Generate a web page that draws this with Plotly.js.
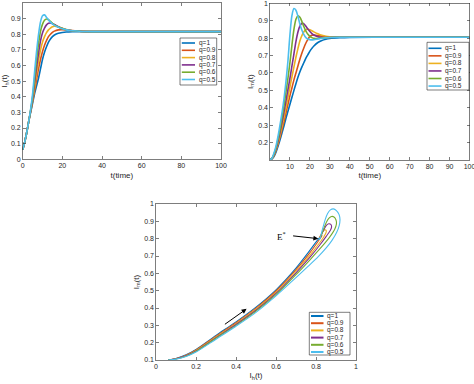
<!DOCTYPE html>
<html><head><meta charset="utf-8">
<script src="https://cdn.plot.ly/plotly-3.0.1.min.js"></script>
<style>html,body{margin:0;padding:0;background:#fff;}#chart{width:474px;height:384px;}</style>
</head><body><div id="chart"></div>
<script>
// ---------- data ----------
const qLabels = ['q=1','q=0.9','q=0.8','q=0.7','q=0.6','q=0.5'];
const colors  = ['#0072BD','#D95319','#EDB120','#7E2F8E','#77AC30','#4DBEEE'];

// Top-left: I_h(t)
const tH = [0,1,2,3,4,5,6,7,8,9,10,11,12,13,14,15,16,18,20,22,25,30,40,60,100];
const Ih_q10 = [0.06,0.11,0.17,0.24,0.30,0.36,0.42,0.47,0.52,0.58,0.64,0.685,0.72,0.75,0.77,0.785,0.795,0.806,0.811,0.814,0.816,0.817,0.817,0.817,0.817];
const Ih_q09 = [0.06,0.11,0.17,0.24,0.305,0.37,0.44,0.51,0.58,0.64,0.69,0.73,0.76,0.785,0.80,0.812,0.82,0.828,0.829,0.827,0.823,0.819,0.817,0.817,0.817];
const Ih_q08 = [0.06,0.11,0.17,0.24,0.31,0.38,0.46,0.55,0.63,0.70,0.75,0.785,0.81,0.828,0.84,0.848,0.851,0.847,0.838,0.83,0.823,0.818,0.817,0.817,0.817];
const Ih_q07 = [0.06,0.11,0.17,0.24,0.31,0.39,0.49,0.59,0.68,0.76,0.81,0.84,0.86,0.87,0.872,0.868,0.862,0.848,0.837,0.829,0.822,0.818,0.817,0.817,0.817];
const Ih_q06 = [0.06,0.11,0.17,0.24,0.315,0.40,0.52,0.64,0.74,0.82,0.865,0.89,0.898,0.893,0.882,0.87,0.86,0.846,0.836,0.829,0.822,0.818,0.817,0.817,0.817];
const Ih_q05 = [0.06,0.11,0.17,0.24,0.32,0.42,0.56,0.69,0.80,0.88,0.918,0.924,0.908,0.892,0.878,0.866,0.857,0.845,0.835,0.828,0.822,0.818,0.817,0.817,0.817];

// Top-right: I_m(t)
const tM = [0,1,2,3,4,5,6,7,8,9,10,11,12,13,14,15,16,17,18,19,20,21,22,24,26,28,30,35,40,60,100];
const Im_q10 = [0.1,0.106,0.12,0.145,0.178,0.215,0.255,0.295,0.34,0.38,0.42,0.46,0.5,0.538,0.575,0.607,0.635,0.66,0.685,0.705,0.725,0.741,0.755,0.775,0.787,0.794,0.798,0.802,0.804,0.805,0.805];
const Im_q09 = [0.1,0.108,0.125,0.155,0.19,0.23,0.275,0.32,0.37,0.42,0.47,0.515,0.56,0.6,0.64,0.68,0.715,0.745,0.772,0.793,0.81,0.817,0.818,0.815,0.811,0.808,0.806,0.805,0.805,0.805,0.805];
const Im_q08 = [0.1,0.109,0.128,0.16,0.198,0.242,0.29,0.345,0.4,0.46,0.52,0.578,0.635,0.69,0.74,0.785,0.815,0.837,0.849,0.851,0.848,0.842,0.836,0.825,0.816,0.81,0.807,0.805,0.805,0.805,0.805];
const Im_q07 = [0.1,0.11,0.13,0.165,0.208,0.258,0.315,0.375,0.44,0.505,0.57,0.64,0.71,0.78,0.835,0.87,0.886,0.882,0.868,0.852,0.838,0.826,0.818,0.808,0.804,0.803,0.804,0.805,0.805,0.805,0.805];
const Im_q06 = [0.1,0.11,0.133,0.17,0.218,0.275,0.34,0.41,0.49,0.57,0.66,0.76,0.85,0.908,0.928,0.92,0.895,0.865,0.84,0.822,0.81,0.803,0.799,0.798,0.801,0.803,0.804,0.805,0.805,0.805,0.805];
const Im_q05 = [0.1,0.11,0.14,0.18,0.235,0.3,0.37,0.45,0.55,0.67,0.82,0.93,0.97,0.96,0.925,0.88,0.845,0.82,0.803,0.795,0.791,0.79,0.791,0.795,0.799,0.802,0.804,0.805,0.805,0.805,0.805];

// Bottom: phase plane I_h vs I_m
const ph_Ih_q10 = [0.06,0.1,0.15,0.2,0.3,0.4,0.5,0.6,0.7,0.76,0.795,0.81,0.817];
const ph_Im_q10 = [0.1,0.109,0.13,0.161,0.242,0.32,0.405,0.505,0.63,0.718,0.773,0.795,0.805];
const ph_Ih_q09 = [0.06,0.1,0.15,0.2,0.3,0.4,0.5,0.6,0.7,0.765,0.805,0.823,0.83,0.827,0.821,0.817];
const ph_Im_q09 = [0.1,0.108,0.128,0.158,0.238,0.315,0.399,0.498,0.621,0.712,0.775,0.805,0.818,0.82,0.812,0.805];
const ph_Ih_q08 = [0.06,0.1,0.15,0.2,0.3,0.4,0.5,0.6,0.7,0.77,0.815,0.84,0.851,0.85,0.842,0.832,0.824,0.819,0.817];
const ph_Im_q08 = [0.1,0.107,0.126,0.155,0.233,0.31,0.393,0.491,0.612,0.705,0.772,0.813,0.838,0.849,0.85,0.838,0.822,0.81,0.805];
const ph_Ih_q07 = [0.06,0.1,0.15,0.2,0.3,0.4,0.5,0.6,0.7,0.77,0.82,0.852,0.872,0.878,0.874,0.864,0.853,0.842,0.832,0.824,0.819,0.817];
const ph_Im_q07 = [0.1,0.107,0.124,0.152,0.229,0.305,0.387,0.484,0.603,0.693,0.765,0.815,0.849,0.868,0.882,0.886,0.878,0.858,0.835,0.816,0.806,0.805];
const ph_Ih_q06 = [0.06,0.1,0.15,0.2,0.3,0.4,0.5,0.6,0.7,0.77,0.83,0.87,0.893,0.902,0.9,0.89,0.878,0.865,0.852,0.84,0.83,0.823,0.819,0.817];
const ph_Im_q06 = [0.1,0.106,0.122,0.149,0.225,0.3,0.382,0.477,0.592,0.678,0.755,0.812,0.853,0.884,0.908,0.925,0.928,0.918,0.895,0.862,0.83,0.81,0.801,0.805];
const ph_Ih_q05 = [0.06,0.1,0.15,0.2,0.3,0.4,0.5,0.6,0.7,0.76,0.81,0.85,0.88,0.903,0.916,0.92,0.915,0.902,0.887,0.872,0.858,0.846,0.836,0.828,0.822,0.819,0.817,0.817];
const ph_Im_q05 = [0.1,0.105,0.12,0.146,0.22,0.295,0.375,0.47,0.575,0.64,0.695,0.745,0.79,0.835,0.875,0.91,0.94,0.962,0.972,0.966,0.945,0.91,0.87,0.835,0.808,0.796,0.797,0.805];

// axis ticks
const tlXTicks = [0,20,40,60,80,100];
const tlYTicks = [0,0.1,0.2,0.3,0.4,0.5,0.6,0.7,0.8,0.9];
const trXTicks = [10,20,30,40,50,60,70,80,90,100];
const trYTicks = [0.2,0.3,0.4,0.5,0.6,0.7,0.8,0.9,1];
const bXTicks = [0,0.2,0.4,0.6,0.8,1];
const bYTicks = [0.1,0.2,0.3,0.4,0.5,0.6,0.7,0.8,0.9,1];

// ---------- build ----------
const IhSeries = [Ih_q10,Ih_q09,Ih_q08,Ih_q07,Ih_q06,Ih_q05];
const ImSeries = [Im_q10,Im_q09,Im_q08,Im_q07,Im_q06,Im_q05];
const phX = [ph_Ih_q10,ph_Ih_q09,ph_Ih_q08,ph_Ih_q07,ph_Ih_q06,ph_Ih_q05];
const phY = [ph_Im_q10,ph_Im_q09,ph_Im_q08,ph_Im_q07,ph_Im_q06,ph_Im_q05];

const traces = [];
for (let i=0;i<6;i++) traces.push({x:tH,y:IhSeries[i],xaxis:'x',yaxis:'y',type:'scatter',mode:'lines',
  line:{color:colors[i],width:1.6,shape:'spline',smoothing:0.8},name:qLabels[i],showlegend:false});
for (let i=0;i<6;i++) traces.push({x:tM,y:ImSeries[i],xaxis:'x2',yaxis:'y2',type:'scatter',mode:'lines',
  line:{color:colors[i],width:1.6,shape:'spline',smoothing:0.8},name:qLabels[i],showlegend:false});
for (let i=0;i<6;i++) traces.push({x:phX[i],y:phY[i],xaxis:'x3',yaxis:'y3',type:'scatter',mode:'lines',
  line:{color:colors[i],width:1.1,shape:'spline',smoothing:0.8},name:qLabels[i],showlegend:false});

const W=474,H=384;
const fx=p=>p/W, fy=p=>1-p/H;
const tickFont={family:'Liberation Sans, Arial, sans-serif',size:7,color:'#262626'};
const titleFont={family:'Liberation Sans, Arial, sans-serif',size:8,color:'#262626'};
function ax(extra){
  return Object.assign({showline:true,linecolor:'#262626',linewidth:0.6,mirror:'ticks',ticks:'inside',
    ticklen:3,tickwidth:0.6,tickcolor:'#262626',showgrid:false,zeroline:false,tickfont:tickFont,
    fixedrange:true,automargin:false,ticklabeloverflow:'allow'},extra);
}

const shapes=[], annotations=[];
function legend(bx0,bx1,by0,by1,y0,dy,lx0,lx1,tx,lw){
  shapes.push({type:'rect',xref:'paper',yref:'paper',x0:fx(bx0),x1:fx(bx1),y0:fy(by0),y1:fy(by1),
    line:{color:'#262626',width:0.6},fillcolor:'#ffffff'});
  for(let i=0;i<6;i++){
    const yy=y0+i*dy;
    shapes.push({type:'line',xref:'paper',yref:'paper',x0:fx(lx0),x1:fx(lx1),y0:fy(yy),y1:fy(yy),
      line:{color:colors[i],width:lw}});
    annotations.push({xref:'paper',yref:'paper',x:fx(tx),y:fy(yy),xanchor:'left',yanchor:'middle',
      text:qLabels[i],showarrow:false,font:{family:'Liberation Sans, Arial, sans-serif',size:6.5,color:'#262626'}});
  }
}
legend(180,216.7,38,85,43,7.3,181.8,195,196.5,1.6);
legend(427,469,42.3,90,48.3,7.55,428.5,441.5,443,1.6);
legend(309.3,350,312.3,355,316,7.2,311,323.5,325,2);

// arrows on phase plane
annotations.push({xref:'x3',yref:'y3',axref:'x3',ayref:'y3',x:0.453,y:0.395,ax:0.337,ay:0.3,text:'',
  showarrow:true,arrowhead:2,arrowsize:1,arrowwidth:1,arrowcolor:'#000'});
annotations.push({xref:'x3',yref:'y3',axref:'x3',ayref:'y3',x:0.812,y:0.8,ax:0.678,ay:0.817,text:'',
  showarrow:true,arrowhead:2,arrowsize:1,arrowwidth:1,arrowcolor:'#000'});
annotations.push({xref:'x3',yref:'y3',x:0.66,y:0.817,xanchor:'right',yanchor:'middle',text:'E<sup>*</sup>',
  showarrow:false,font:{family:'Liberation Serif, Times New Roman, serif',size:9,color:'#000'}});

const layout={
  width:W,height:H,margin:{l:0,r:0,t:0,b:0},paper_bgcolor:'#fff',plot_bgcolor:'#fff',showlegend:false,
  xaxis:ax({domain:[fx(22.7),fx(221)],range:[0,100],tickvals:tlXTicks,anchor:'y',
    title:{text:'t(time)',font:titleFont,standoff:3}}),
  yaxis:ax({domain:[fy(159.3),fy(3)],range:[0,1],tickvals:tlYTicks,anchor:'x',
    title:{text:'I<sub>h</sub>(t)',font:titleFont,standoff:3}}),
  xaxis2:ax({domain:[fx(270),fx(469.5)],range:[0,100],tickvals:trXTicks,anchor:'y2',
    title:{text:'t(time)',font:titleFont,standoff:3}}),
  yaxis2:ax({domain:[fy(160),fy(3.3)],range:[0.1,1],tickvals:trYTicks,anchor:'x2',
    title:{text:'I<sub>m</sub>(t)',font:titleFont,standoff:3}}),
  xaxis3:ax({domain:[fx(156),fx(356)],range:[0,1],tickvals:bXTicks,anchor:'y3',
    title:{text:'I<sub>h</sub>(t)',font:titleFont,standoff:3}}),
  yaxis3:ax({domain:[fy(360),fy(204)],range:[0.1,1],tickvals:bYTicks,anchor:'x3',
    title:{text:'I<sub>m</sub>(t)',font:titleFont,standoff:3}}),
  shapes:shapes,annotations:annotations
};
Plotly.newPlot('chart',traces,layout,{staticPlot:true,displayModeBar:false});
</script></body></html>
